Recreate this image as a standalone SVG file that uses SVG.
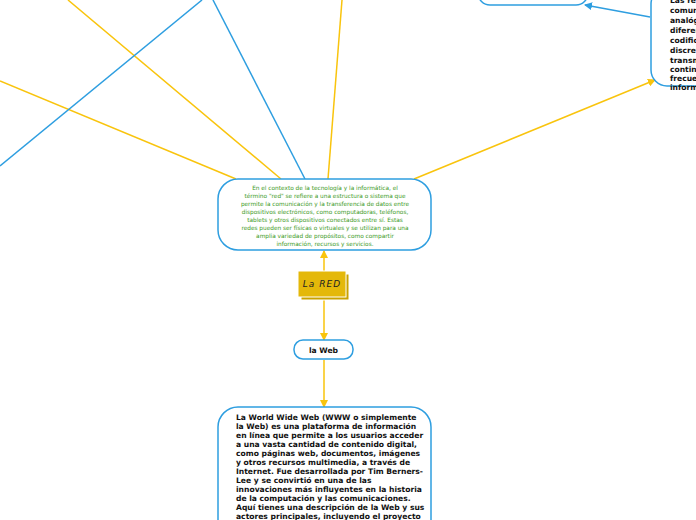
<svg xmlns="http://www.w3.org/2000/svg" width="696" height="520" viewBox="0 0 696 520">
<defs>
<style>
.y{stroke:#f9c40d;stroke-width:1.5;fill:none}
.b{stroke:#2e9ee0;stroke-width:1.5;fill:none}
.n{fill:#fff;stroke:#2e9ee0;stroke-width:1.5}
.g{font-family:Verdana,"DejaVu Sans",sans-serif;font-size:5.8px;fill:#3c9a25;text-anchor:middle}
.k{font-family:Verdana,"DejaVu Sans",sans-serif;font-size:7.6px;font-weight:bold;fill:#111}
</style>
<marker id="ay" markerWidth="8" markerHeight="8" refX="7" refY="4" orient="auto" markerUnits="userSpaceOnUse"><path d="M0,0L8,4L0,8z" fill="#f9c40d"/></marker>
<marker id="ab" markerWidth="8" markerHeight="8" refX="7" refY="4" orient="auto" markerUnits="userSpaceOnUse"><path d="M0,0L8,4L0,8z" fill="#2e9ee0"/></marker>
</defs>
<g id="connectors">
<line class="y" x1="236" y1="179" x2="0" y2="81"/>
<line class="y" x1="281" y1="179" x2="68" y2="0"/>
<line class="b" x1="0" y1="166" x2="202" y2="0"/>
<line class="b" x1="305" y1="179" x2="213" y2="0"/>
<line class="y" x1="328" y1="179" x2="342" y2="0"/>
<line class="y" x1="414" y1="179" x2="655" y2="80" marker-end="url(#ay)"/>
<line class="b" x1="650" y1="17" x2="585" y2="5" marker-end="url(#ab)"/>
<line class="y" x1="324" y1="271" x2="324" y2="251" marker-end="url(#ay)"/>
<line class="y" x1="324" y1="298" x2="324" y2="340" marker-end="url(#ay)"/>
<line class="y" x1="324" y1="360" x2="324" y2="407" marker-end="url(#ay)"/>
</g>
<g id="node-top"><rect class="n" x="478" y="-30" width="110" height="35" rx="12"/></g>
<g id="node-right"><rect class="n" x="651" y="-12" width="70" height="98" rx="16"/>
<text class="k" x="670" y="3">Las re</text><text class="k" x="670" y="13">comun</text><text class="k" x="670" y="23">analóg</text><text class="k" x="670" y="33">diferen</text><text class="k" x="670" y="43">codific</text><text class="k" x="670" y="53">discret</text><text class="k" x="670" y="63">transm</text><text class="k" x="670" y="72">continu</text><text class="k" x="670" y="81">frecuen</text><text class="k" x="670" y="90">inform</text></g>
<g id="node-main"><rect class="n" x="218" y="179" width="213" height="71" rx="20"/>
<text class="g"><tspan x="325" y="190">En el contexto de la tecnología y la informática, el</tspan><tspan x="325" y="198">término "red" se refiere a una estructura o sistema que</tspan><tspan x="325" y="206">permite la comunicación y la transferencia de datos entre</tspan><tspan x="325" y="214">dispositivos electrónicos, como computadoras, teléfonos,</tspan><tspan x="325" y="222">tablets y otros dispositivos conectados entre sí. Estas</tspan><tspan x="325" y="230">redes pueden ser físicas o virtuales y se utilizan para una</tspan><tspan x="325" y="238">amplia variedad de propósitos, como compartir</tspan><tspan x="325" y="246">información, recursos y servicios.</tspan></text></g>
<g id="node-red"><rect x="301" y="274" width="48" height="26" fill="#c9a200" stroke="#fff" stroke-width="1"/><rect x="298" y="271" width="48" height="26" fill="#e4b80a" stroke="#fff" stroke-width="1"/>
<text x="322" y="287" font-family="'Comic Sans MS','DejaVu Sans',sans-serif" font-style="italic" font-size="9" fill="#222" text-anchor="middle" letter-spacing="1">La RED</text></g>
<g id="node-web"><rect class="n" x="294" y="340" width="59" height="19" rx="9"/><text class="k" x="323.5" y="353" text-anchor="middle">la Web</text></g>
<g id="node-www"><rect class="n" x="218" y="407" width="213" height="140" rx="20"/>
<text class="k"><tspan x="236" y="420">La World Wide Web (WWW o simplemente</tspan><tspan x="236" y="429">la Web) es una plataforma de información</tspan><tspan x="236" y="438">en línea que permite a los usuarios acceder</tspan><tspan x="236" y="447">a una vasta cantidad de contenido digital,</tspan><tspan x="236" y="456">como páginas web, documentos, imágenes</tspan><tspan x="236" y="465">y otros recursos multimedia, a través de</tspan><tspan x="236" y="474">Internet. Fue desarrollada por Tim Berners-</tspan><tspan x="236" y="483">Lee y se convirtió en una de las</tspan><tspan x="236" y="492">innovaciones más influyentes en la historia</tspan><tspan x="236" y="501">de la computación y las comunicaciones.</tspan><tspan x="236" y="510">Aquí tienes una descripción de la Web y sus</tspan><tspan x="236" y="519">actores principales, incluyendo el proyecto</tspan><tspan x="236" y="528">Memex, el proyecto Xanadú y Tim Berners-</tspan></text></g>
</svg>
